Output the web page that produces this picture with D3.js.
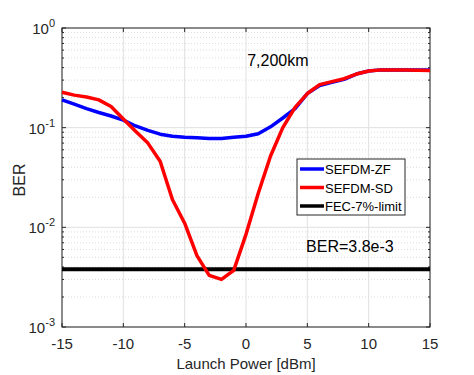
<!DOCTYPE html>
<html>
<head>
<meta charset="utf-8">
<script src="https://cdn.jsdelivr.net/npm/d3@7"></script>
<style>
  body { margin: 0; background: #fff; }
  text { font-family: Arial, "Liberation Sans", sans-serif; fill: #262626; }
</style>
</head>
<body>
<div id="chart"></div>
<script>
// launch power, dBm
var power = [-15,-14,-13,-12,-11,-10,-9,-8,-7,-6,-5,-4,-3,-2,-1,0,1,2,3,4,5,6,7,8,9,10,11,12,13,14,15];
var berZF = [0.19,0.172,0.155,0.142,0.131,0.119,0.104,0.094,0.086,0.082,0.080,0.079,0.078,0.078,0.080,0.082,0.087,0.102,0.125,0.155,0.22,0.265,0.285,0.305,0.345,0.37,0.38,0.38,0.38,0.378,0.378];
var berSD = [0.227,0.212,0.203,0.19,0.163,0.122,0.092,0.07,0.046,0.019,0.011,0.0052,0.0033,0.0030,0.0037,0.0085,0.022,0.052,0.10,0.16,0.22,0.27,0.29,0.31,0.345,0.37,0.38,0.38,0.378,0.376,0.375];
var fecLimit = 3.8e-3;
var xTicks = [-15,-10,-5,0,5,10,15];
var yDecades = [-3,-2,-1,0];

var width = 474, height = 375;
var margin = {top: 28, right: 44, bottom: 48, left: 62};
var w = width - margin.left - margin.right,
    h = height - margin.top - margin.bottom;

var svg = d3.select("#chart").append("svg")
    .attr("width", width)
    .attr("height", height);

var g = svg.append("g")
    .attr("transform", "translate(" + margin.left + "," + margin.top + ")");

var x = d3.scaleLinear().domain([-15, 15]).range([0, w]);
var y = d3.scaleLog().domain([1e-3, 1]).range([h, 0]);

// minor grid (dotted)
var minor = [];
yDecades.slice(0, 3).forEach(function(e) {
  for (var k = 2; k <= 9; k++) minor.push(k * Math.pow(10, e));
});
g.selectAll(".minor-grid")
    .data(minor)
  .enter().append("line")
    .attr("x1", 0).attr("x2", w)
    .attr("y1", function(d) { return y(d); })
    .attr("y2", function(d) { return y(d); })
    .style("stroke", "#dcdcdc")
    .style("stroke-width", 1)
    .style("stroke-dasharray", "1,2");

// major grid
g.selectAll(".vgrid")
    .data(xTicks)
  .enter().append("line")
    .attr("x1", function(d) { return x(d); })
    .attr("x2", function(d) { return x(d); })
    .attr("y1", 0).attr("y2", h)
    .style("stroke", "#e0e0e0");
g.selectAll(".hgrid")
    .data(yDecades)
  .enter().append("line")
    .attr("x1", 0).attr("x2", w)
    .attr("y1", function(d) { return y(Math.pow(10, d)); })
    .attr("y2", function(d) { return y(Math.pow(10, d)); })
    .style("stroke", "#e0e0e0");

// tick marks (inward, both sides)
var tickCol = "#262626";
xTicks.forEach(function(d) {
  g.append("line").attr("x1", x(d)).attr("x2", x(d)).attr("y1", h).attr("y2", h - 4).style("stroke", tickCol);
  g.append("line").attr("x1", x(d)).attr("x2", x(d)).attr("y1", 0).attr("y2", 4).style("stroke", tickCol);
});
yDecades.forEach(function(e) {
  var yy = y(Math.pow(10, e));
  g.append("line").attr("x1", 0).attr("x2", 4).attr("y1", yy).attr("y2", yy).style("stroke", tickCol);
  g.append("line").attr("x1", w).attr("x2", w - 4).attr("y1", yy).attr("y2", yy).style("stroke", tickCol);
});
minor.forEach(function(d) {
  g.append("line").attr("x1", 0).attr("x2", 2).attr("y1", y(d)).attr("y2", y(d)).style("stroke", tickCol);
  g.append("line").attr("x1", w).attr("x2", w - 2).attr("y1", y(d)).attr("y2", y(d)).style("stroke", tickCol);
});

// x tick labels
g.selectAll(".xlab")
    .data(xTicks)
  .enter().append("text")
    .attr("x", function(d) { return x(d); })
    .attr("y", h + 22)
    .attr("text-anchor", "middle")
    .style("font-size", "15px")
    .text(function(d) { return d; });

// y tick labels 10^e
yDecades.forEach(function(e) {
  var t = g.append("text")
      .attr("x", -7)
      .attr("y", y(Math.pow(10, e)) + 6)
      .attr("text-anchor", "end")
      .style("font-size", "15px");
  t.append("tspan").text("10");
  t.append("tspan").attr("dy", -7).style("font-size", "11px").text(e);
});

// axis box
g.append("rect")
    .attr("width", w).attr("height", h)
    .style("fill", "none")
    .style("stroke", "#262626")
    .style("stroke-width", 1);

// lines
var line = function(vals) {
  return d3.line()
    .x(function(d, i) { return x(power[i]); })
    .y(function(d) { return y(d); })(vals);
};

g.append("line")
    .attr("x1", 0).attr("x2", w)
    .attr("y1", y(fecLimit)).attr("y2", y(fecLimit))
    .style("stroke", "#000")
    .style("stroke-width", 4);

g.append("path")
    .attr("d", line(berZF))
    .style("fill", "none")
    .style("stroke", "#0000ff")
    .style("stroke-width", 3.5)
    .style("stroke-linejoin", "round");

g.append("path")
    .attr("d", line(berSD))
    .style("fill", "none")
    .style("stroke", "#ff0000")
    .style("stroke-width", 3.5)
    .style("stroke-linejoin", "round");

// annotations
g.append("text")
    .attr("x", x(2.6))
    .attr("y", y(0.37) - 5)
    .attr("text-anchor", "middle")
    .style("font-size", "16px")
    .style("fill", "#000")
    .text("7,200km");

g.append("text")
    .attr("x", x(4.9))
    .attr("y", 224)
    .style("font-size", "16px")
    .style("fill", "#000")
    .text("BER=3.8e-3");

// legend
var legendData = [
  {name: "SEFDM-ZF", color: "#0000ff"},
  {name: "SEFDM-SD", color: "#ff0000"},
  {name: "FEC-7%-limit", color: "#000"}
];
var leg = g.append("g")
    .attr("transform", "translate(" + (297 - margin.left) + "," + (159 - margin.top) + ")");
leg.append("rect")
    .attr("width", 108).attr("height", 56)
    .style("fill", "#fff")
    .style("stroke", "#262626")
    .style("stroke-width", 1);
var item = leg.selectAll(".item")
    .data(legendData)
  .enter().append("g")
    .attr("transform", function(d, i) { return "translate(0," + (10 + i * 18.5) + ")"; });
item.append("line")
    .attr("x1", 3).attr("x2", 27)
    .attr("y1", 0).attr("y2", 0)
    .style("stroke", function(d) { return d.color; })
    .style("stroke-width", 3.5);
item.append("text")
    .attr("x", 28)
    .attr("y", 5)
    .style("font-size", "13px")
    .style("fill", "#000")
    .text(function(d) { return d.name; });

// axis titles
svg.append("text")
    .attr("transform", "translate(25," + 180 + ") rotate(-90)")
    .attr("text-anchor", "middle")
    .style("font-size", "16px")
    .text("BER");

svg.append("text")
    .attr("x", margin.left + x(0))
    .attr("y", 369)
    .attr("text-anchor", "middle")
    .style("font-size", "15px")
    .text("Launch Power [dBm]");
</script>
</body>
</html>
